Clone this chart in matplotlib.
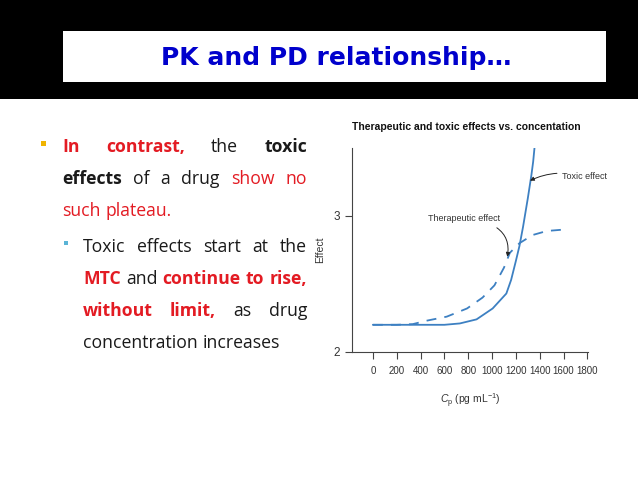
import matplotlib
matplotlib.use("Agg")
import matplotlib.pyplot as plt
from matplotlib.patches import Rectangle

W, H = 638, 478

therapeutic_cp = [0, 200, 335, 450, 620, 790, 920, 1020, 1100, 1150, 1230, 1340, 1460, 1600]
therapeutic_eff = [2.20, 2.20, 2.205, 2.23, 2.26, 2.32, 2.40, 2.49, 2.62, 2.73, 2.80, 2.86, 2.89, 2.90]
toxic_cp = [0, 300, 600, 730, 870, 1005, 1120, 1160, 1200, 1230, 1260, 1300, 1330, 1345, 1356]
toxic_eff = [2.20, 2.20, 2.20, 2.21, 2.24, 2.32, 2.43, 2.53, 2.67, 2.78, 2.92, 3.13, 3.30, 3.40, 3.50]
x_ticks = [0, 200, 400, 600, 800, 1000, 1200, 1400, 1600, 1800]
y_ticks = [2, 3]

RED = '#e31b23'
INK = '#1a1a1a'
BLUE = '#3d80c2'
GREY = '#333333'
CHART_FONT = 'Liberation Sans'

plt.rcParams['mathtext.fontset'] = 'custom'
plt.rcParams['mathtext.rm'] = CHART_FONT
plt.rcParams['mathtext.it'] = CHART_FONT + ':italic'

fig = plt.figure(figsize=(W / 100, H / 100), dpi=100)
fig.patch.set_facecolor('white')


def fx(x):
    return x / W


def fy(y):
    return 1 - y / H


# header band and title box
fig.add_artist(Rectangle((0, fy(99)), 1, 99 / H, transform=fig.transFigure,
                         facecolor='black', edgecolor='none'))
fig.add_artist(Rectangle((fx(63), fy(82)), (606 - 63) / W, (82 - 31) / H,
                         transform=fig.transFigure, facecolor='white', edgecolor='none'))
fig.text(fx(336), fy(58), 'PK and PD relationship…', color='#0000cc', fontsize=18,
         fontweight='bold', family='DejaVu Sans', ha='center', va='center')

# bullets
fig.add_artist(Rectangle((fx(41), fy(146)), 5 / W, 5 / H, transform=fig.transFigure,
                         facecolor='#f0b400', edgecolor='none'))
fig.add_artist(Rectangle((fx(64), fy(245)), 4 / W, 4 / H, transform=fig.transFigure,
                         facecolor='#5ab4d6', edgecolor='none'))

BODY = 12.7
renderer = fig.canvas.get_renderer()


def put_line(words, x0, x1, base, justify=True):
    texts = []
    for w, col, wt in words:
        t = fig.text(0, 0, w, color=col, fontweight=wt, fontsize=BODY,
                     family='Open Sans', ha='left', va='baseline')
        texts.append(t)
    widths = [t.get_window_extent(renderer).width for t in texts]
    if justify and len(texts) > 1:
        gap = (x1 - x0 - sum(widths)) / (len(texts) - 1)
    else:
        gap = 4.6
    x = x0
    for t, w in zip(texts, widths):
        t.set_position((fx(x), fy(base)))
        x += w + gap


put_line([('In', RED, 'bold'), ('contrast,', RED, 'bold'), ('the', INK, 'normal'),
          ('toxic', INK, 'bold')], 62, 307, 152)
put_line([('effects', INK, 'bold'), ('of', INK, 'normal'), ('a', INK, 'normal'),
          ('drug', INK, 'normal'), ('show', RED, 'normal'), ('no', RED, 'normal')], 62, 307, 184)
put_line([('such', RED, 'normal'), ('plateau.', RED, 'normal')], 62, 307, 216, justify=False)
put_line([(w, INK, 'normal') for w in 'Toxic effects start at the'.split()], 83, 307, 252)
put_line([('MTC', RED, 'bold'), ('and', INK, 'normal'), ('continue', RED, 'bold'),
          ('to', RED, 'bold'), ('rise,', RED, 'bold')], 83, 307, 284)
put_line([('without', RED, 'bold'), ('limit,', RED, 'bold'), ('as', INK, 'normal'),
          ('drug', INK, 'normal')], 83, 307, 316)
put_line([('concentration', INK, 'normal'), ('increases', INK, 'normal')], 83, 307, 348,
         justify=False)

# the chart
ax = fig.add_axes([fx(352), fy(352), (588 - 352) / W, (352 - 148) / H])
ax.plot(toxic_cp, toxic_eff, color=BLUE, lw=1.3, solid_capstyle='round')
ax.plot(therapeutic_cp, therapeutic_eff, color=BLUE, lw=1.3, linestyle=(0, (5.5, 4.5)))

ax.set_xlim(-175, 1805)
ax.set_ylim(2, 3.5)
ax.set_xticks(x_ticks)
ax.set_yticks(y_ticks)
for s in ['top', 'right']:
    ax.spines[s].set_visible(False)
for s in ['left', 'bottom']:
    ax.spines[s].set_color('#444444')
    ax.spines[s].set_linewidth(0.8)
ax.tick_params(axis='both', colors='#444444', labelcolor=GREY, labelsize=7,
               direction='out', length=5, width=0.8)
ax.tick_params(axis='y', labelsize=8.5)
ax.tick_params(axis='x', pad=5)
for lab in ax.get_xticklabels() + ax.get_yticklabels():
    lab.set_family(CHART_FONT)

ax.set_ylabel('Effect', fontsize=7.5, color=GREY, family=CHART_FONT)
ax.yaxis.set_label_coords(-0.114, 0.5)
ax.set_xlabel(r'$C_{\mathrm{p}}$ (pg mL$^{-1}$)', fontsize=7.5, color=GREY, family=CHART_FONT)
ax.xaxis.set_label_coords(0.5, -0.196)
ax.patch.set_alpha(0)

fig.text(fx(352), fy(127), 'Therapeutic and toxic effects vs. concentation', fontsize=7.5,
         fontweight='bold', family=CHART_FONT, color='#111111', ha='left', va='center')

ax.annotate('Toxic effect', xy=(1318, 3.26), xytext=(1591, 3.287), fontsize=6.5, color=GREY,
            family=CHART_FONT, ha='left', va='center',
            arrowprops=dict(arrowstyle='-|>', color='#222222', lw=0.7, mutation_scale=6,
                            shrinkA=2, shrinkB=0, connectionstyle='arc3,rad=0.2'))
ax.annotate('Therapeutic effect', xy=(1128, 2.70), xytext=(762, 2.978), fontsize=6.5, color=GREY,
            family=CHART_FONT, ha='center', va='center',
            arrowprops=dict(arrowstyle='-|>', color='#222222', lw=0.7, mutation_scale=6,
                            shrinkA=2, shrinkB=0, relpos=(0.85, 0),
                            connectionstyle='arc3,rad=-0.4'))

fig.savefig('out.png', dpi=100, facecolor='white')
